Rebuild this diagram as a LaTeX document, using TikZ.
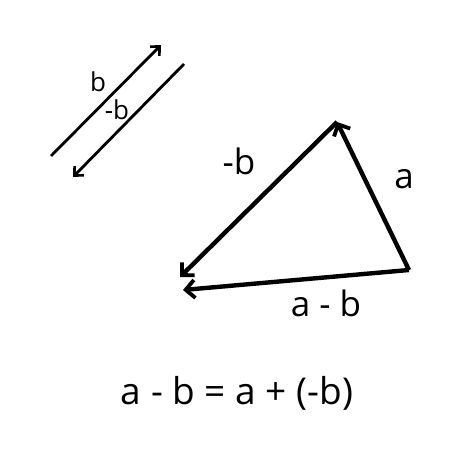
\documentclass[tikz,border=0pt]{standalone}
\usepackage{fontspec}
\setmainfont{Open Sans}
\usetikzlibrary{arrows.meta}
\newcommand{\lblsmall}{\fontsize{26}{30}\selectfont}
\newcommand{\lblbig}{\fontsize{35}{40}\selectfont}
\newcommand{\lbleq}{\fontsize{37}{44}\selectfont}

\begin{document}
\begin{tikzpicture}[x=1pt, y=1pt,
  thinvec/.style={line width=2.8pt, -{Straight Barb[length=7pt,width=13pt,line width=2.6pt]}},
  thickvec/.style={line width=4.4pt, -{Straight Barb[length=9pt,width=18pt,line width=3.8pt]}},
  lbl/.style={anchor=base, inner sep=0pt}]

\useasboundingbox (0,0) rectangle (474,474);

% the two parallel vectors
\coordinate (bs) at (51,318); \coordinate (be) at (161,429);
\coordinate (nbs) at (184,410); \coordinate (nbe) at (73,297);
\draw[thinvec] (bs) -- (be);
\draw[thinvec] (nbs) -- (nbe);
\node[lbl] (lb) at (98,382) {\lblsmall b};
\node[lbl] (lnb) at (117,354) {\lblsmall -b};

% the triangle
\coordinate (top) at (337,352);
\coordinate (rgt) at (409,204);
\coordinate (lfa) at (180,197);
\coordinate (lfb) at (183,184);
\draw[thickvec] (top) -- (lfa);
\draw[thickvec] (rgt) -- (top);
\draw[thickvec] (rgt) -- (lfb);

\node[lbl] (ltnb) at (239,299) {\lblbig -b};
\node[lbl] (lta) at (404,285) {\lblbig a};
\node[lbl] (ltab) at (326,157) {\lblbig a - b};

% the rule
\node[lbl] (eq) at (237,69) {\lbleq a - b = a + (-b)};
\end{tikzpicture}
\end{document}
